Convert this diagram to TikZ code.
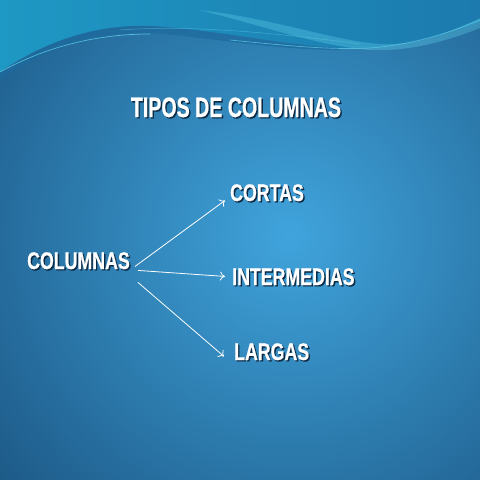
\documentclass[tikz,border=0pt]{standalone}
\usepackage{fontspec}
\newfontfamily\narrowfont[FakeStretch=0.74,FakeBold=0.6]{Liberation Sans Bold}
\newfontfamily\titlefont[FakeStretch=0.70,FakeBold=0.6]{Liberation Sans Bold}
\usetikzlibrary{calc,arrows.meta}
\definecolor{bgdark}{HTML}{103F69}
\definecolor{bglight}{HTML}{40A4DC}
\definecolor{topA}{HTML}{1E98C4}
\definecolor{topB}{HTML}{1C7AAE}
\definecolor{waveband}{HTML}{1D6A9E}
\definecolor{wavelight}{HTML}{5FD0EA}
\definecolor{shadowc}{HTML}{0C2A44}
\newcommand\shtext[1]{\makebox[0pt][l]{\raisebox{-1.4pt}{\hspace{1.4pt}\textcolor{shadowc}{#1}}}#1}
\tikzset{
  lbl/.style={text=white, inner sep=0pt, font=\narrowfont\fontsize{24}{28}\selectfont},
  ttl/.style={text=white, inner sep=0pt, font=\titlefont\fontsize{28}{32}\selectfont},
  arr/.style={draw=white, line width=0.8pt, -{To[length=5pt,width=9pt]}},
}
\begin{document}
\begin{tikzpicture}[x=1pt,y=-1pt]
\useasboundingbox (0,0) rectangle (480,480);
% background
\fill[bgdark] (0,0) rectangle (480,480);
\begin{scope}
\clip (0,0) rectangle (480,480);
\shade[inner color=bglight, outer color=bgdark] (290,235) circle (520);
\end{scope}
% top wave area
\shade[left color=topA, right color=topB]
  (0,0) -- (480,0) -- (480,22)
  .. controls (430,40) and (390,50) .. (340,48)
  .. controls (280,45) and (220,30) .. (150,26)
  .. controls (90,24) and (40,45) .. (0,72) -- cycle;
% darker band just under upper region on left
\fill[waveband, opacity=0.7]
  (0,72) .. controls (40,45) and (90,24) .. (150,26)
  .. controls (220,30) and (280,45) .. (340,48)
  -- (340,50) .. controls (270,50) and (200,36) .. (150,33)
  .. controls (90,32) and (40,52) .. (0,80) -- cycle;
% light bands on right
\fill[wavelight, opacity=0.35]
  (200,10) .. controls (280,20) and (330,40) .. (380,44)
  .. controls (420,46) and (455,30) .. (480,18) -- (480,28)
  .. controls (450,40) and (410,52) .. (370,50)
  .. controls (320,46) and (270,28) .. (200,10) -- cycle;
\draw[wavelight, line width=0.7pt, opacity=0.8]
  (0,72) .. controls (40,50) and (90,34) .. (150,34);
\draw[wavelight, line width=0.7pt, opacity=0.7]
  (230,40) .. controls (290,46) and (330,50) .. (370,48)
  .. controls (420,44) and (455,30) .. (480,20);
\draw[wavelight, line width=0.5pt, opacity=0.5]
  (120,30) .. controls (200,24) and (300,36) .. (360,44);
% text
\node[ttl, anchor=base] (title) at (236,117) {\shtext{TIPOS DE COLUMNAS}};
\node[lbl, anchor=base east] (col) at (130,269) {\shtext{COLUMNAS}};
\node[lbl, anchor=base west] (cortas) at (230,201) {\shtext{CORTAS}};
\node[lbl, anchor=base west] (inter) at (232,285) {\shtext{INTERMEDIAS}};
\node[lbl, anchor=base west] (largas) at (234,360) {\shtext{LARGAS}};
% arrows
\draw[arr] ([shift={(5pt,-5pt)}]col.east) -- ([shift={(-5pt,-7pt)}]cortas.west);
\draw[arr] ([shift={(8pt,-9pt)}]col.east) -- ([shift={(-7pt,1pt)}]inter.west);
\draw[arr] ([shift={(8pt,-21pt)}]col.east) -- ([shift={(-10pt,-4pt)}]largas.west);
\end{tikzpicture}
\end{document}
